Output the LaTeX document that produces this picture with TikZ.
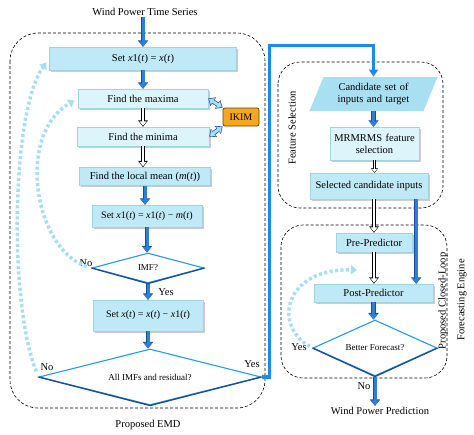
\documentclass[tikz,border=0pt]{standalone}
\usepackage{fontspec}
\setmainfont{Liberation Serif}
\usetikzlibrary{shapes.geometric,arrows.meta,shadows}

\definecolor{boxfill}{HTML}{BFE9F6}
\definecolor{lightfill}{HTML}{DDF4FB}
\definecolor{candfill}{HTML}{A8E0F2}
\definecolor{boxline}{HTML}{A3D3E3}
\definecolor{arrblue}{HTML}{2F7FD8}
\definecolor{darkblue}{HTML}{1B4C9A}
\definecolor{pathblue}{HTML}{1E88F0}
\definecolor{dotblue}{HTML}{A6DFF0}
\definecolor{ikimfill}{HTML}{F4A81D}

\begin{document}
\begin{tikzpicture}[x=1pt, y=-1pt, thick,
	box node/.style={rectangle,fill=boxfill,draw=boxline,thin,inner sep=1pt,align=center,
		font=\fontsize{10.5}{12}\selectfont,
		drop shadow={shadow xshift=1.5pt,shadow yshift=-1.5pt,fill=black!40,opacity=0.5}},
	light node/.style={box node,fill=lightfill},
	cand node/.style={trapezium,trapezium left angle=57,trapezium right angle=123,
		trapezium stretches body,fill=candfill,inner sep=0pt,text width=100pt,align=center,
		font=\fontsize{10.5}{12}\selectfont},
	dec node/.style={diamond,draw=arrblue!80!cyan,fill=white,line width=1.1pt,inner sep=0pt,aspect=3,
		font=\fontsize{9}{10}\selectfont},
	ikim node/.style={rectangle,rounded corners=2pt,fill=ikimfill,draw=black!60!ikimfill,
		font=\fontsize{10}{12}\selectfont,minimum width=36pt,minimum height=18pt,inner sep=1pt},
	label node/.style={font=\fontsize{10.5}{12}\selectfont,inner sep=1pt},
	frame/.style={draw,line width=0.6pt,dash pattern=on 3pt off 2pt},
	bluearr/.style={draw=arrblue,line width=3pt,-{Triangle[width=8.5pt,length=5.5pt]},
		preaction={draw=darkblue,line width=4.4pt,-{Triangle[width=10pt,length=6.5pt]}}},
	hollowarr/.style={draw=white,line width=2.2pt,-{Triangle[width=7pt,length=4.5pt]},shorten >=1pt,
		preaction={draw=black,line width=3.6pt,-{Triangle[width=9.5pt,length=6.5pt]},shorten >=0pt}},
	hollowsmall/.style={draw=white,line width=1.6pt,-{Triangle[width=5pt,length=3pt]},shorten >=0.8pt,
		preaction={draw=black,line width=2.8pt,-{Triangle[width=7pt,length=4.5pt]},shorten >=0pt}},
	dblarr/.style={draw=dotblue,line width=3pt,
		{Triangle[width=7.5pt,length=4.5pt]}-{Triangle[width=7.5pt,length=4.5pt]},shorten <=1pt,shorten >=1pt,
		preaction={draw=darkblue,line width=4.4pt,
			{Triangle[width=10pt,length=6pt]}-{Triangle[width=10pt,length=6pt]},shorten <=0pt,shorten >=0pt}},
	dotarr/.style={draw=dotblue,line width=3.5pt,dash pattern=on 3pt off 2.5pt,
		-{Triangle[width=9pt,length=6pt]}},
	mainpath/.style={draw=pathblue,line width=3.6pt,line join=miter,-{Triangle[width=9pt,length=7pt]}}]
	
	\useasboundingbox (0,0) rectangle (474,434);
	
	% group frames
	\draw[frame,rounded corners=28pt] (10,33) rectangle (265,408);
	\draw[frame,rounded corners=22pt] (278,62) rectangle (443,208);
	\draw[frame,rounded corners=22pt] (281,225) rectangle (447,378);
	
	% proposed EMD
	\node[label node] (0) at (145,12) {Wind Power Time Series};
	\node[box node,minimum width=187pt,minimum height=23pt] (1) at (143,58.5)
		{Set \textit{x}1(\textit{t}) = \textit{x}(\textit{t})};
	\node[light node,minimum width=130pt,minimum height=19pt] (2) at (143,98.5) {Find the maxima};
	\node[light node,minimum width=132pt,minimum height=19pt] (3) at (143,136.5) {Find the minima};
	\node[box node,minimum width=131pt,minimum height=18pt] (4) at (145,176.5)
		{Find the local mean (\textit{m}(\textit{t}))};
	\node[box node,minimum width=110pt,minimum height=22pt,font=\fontsize{10}{12}\selectfont] (5) at (147,216)
		{Set \textit{x}1(\textit{t}) = \textit{x}1(\textit{t}) − \textit{m}(\textit{t})};
	\node[dec node,minimum width=112pt,minimum height=30pt] (6) at (148,268) {IMF?};
	\node[box node,minimum width=110pt,minimum height=31pt,font=\fontsize{10}{12}\selectfont] (7) at (148,315.5)
		{Set \textit{x}(\textit{t}) = \textit{x}(\textit{t}) − \textit{x}1(\textit{t})};
	\node[dec node,minimum width=222pt,minimum height=56pt] (8) at (150,377) {All IMFs and residual?};
	\node[ikim node] (9) at (241,117) {IKIM};
	\node[label node] (emd) at (148,425) {Proposed EMD};
	
	% feature selection and forecasting engine
	\node[cand node,minimum width=127pt,minimum height=34pt] (10) at (373.5,94)
		{Candidate set of\\inputs and target};
	\node[light node,minimum width=89pt,minimum height=33pt,text width=86pt] (11) at (374.5,143.5)
		{MRMRMS feature\\selection};
	\node[box node,minimum width=118pt,minimum height=26pt] (12) at (369,186) {Selected candidate inputs};
	\node[box node,minimum width=76pt,minimum height=19pt] (13) at (374,242.5) {Pre-Predictor};
	\node[box node,minimum width=119pt,minimum height=18pt] (14) at (373.5,293) {Post-Predictor};
	\node[dec node,minimum width=124pt,minimum height=56pt] (15) at (375,348) {Better Forecast?};
	\node[label node] (16) at (380,411) {Wind Power Prediction};
	\node[label node,rotate=90] (fs) at (292,128) {Feature Selection};
	\node[label node,rotate=90] (fe1) at (443,301) {Proposed Closed-Loop};
	\node[label node,rotate=90] (fe2) at (462,300) {Forecasting Engine};
	
	% yes / no labels
	\node[label node] (no1) at (86,263) {No};
	\node[label node] (yes1) at (166,292) {Yes};
	\node[label node] (no2) at (47,367) {No};
	\node[label node] (yes2) at (252,364) {Yes};
	\node[label node] (yes3) at (299,347) {Yes};
	\node[label node] (no3) at (364,386) {No};
	
	% flow
	\draw[bluearr] (1.north |- 0.south) -- (1.north);
	\draw[bluearr] (1.south) -- (1.south |- 2.north);
	\draw[hollowarr] (2.south) -- (2.south |- 3.north);
	\draw[hollowarr] (3.south) -- (3.south |- 4.north);
	\draw[bluearr] (4.south) -- (4.south |- 5.north);
	\draw[bluearr] (5.south) -- (5.south |- 6.north);
	\draw[bluearr] (6.south) -- (6.south |- 7.north);
	\draw[bluearr] (7.south) -- (7.south |- 8.north);
	\draw[dblarr] (2.east) -- (9.north west);
	\draw[dblarr] (3.east) -- (9.south west);
	\draw[darkblue,line width=1.3pt] (6.west) -- (6.south) -- (6.east);
	\draw[darkblue,line width=1.3pt] (8.west) -- (8.south) -- (8.east);
	\draw[darkblue,line width=1.3pt] (15.west) -- (15.south) -- (15.east);
	
	\draw[mainpath] (8.east) -- ++(8,0) |- ([yshift=31pt]10.north) -- (10.north);
	
	\draw[bluearr] (10.south) -- (10.south |- 11.north);
	\draw[hollowsmall] (11.south) -- (11.south |- 12.north);
	\draw[hollowarr] (13.north |- 12.south) -- (13.north);
	\draw[hollowarr] (13.south) -- (13.south |- 14.north);
	\draw[bluearr] (14.south) -- (14.south |- 15.north);
	\draw[bluearr] (15.south) -- (15.south |- 16.north);
	\draw[bluearr] ([xshift=-12pt]12.south east) -- ([xshift=-12pt]12.south east |- 14.north);
	
	% feedback loops
	\coordinate (back) at (357,270);
	\draw[dotarr,shorten <=6pt,shorten >=5pt] (8.west) .. controls (8,300) and (12,110) .. (1.west);
	\draw[dotarr,shorten <=5pt,shorten >=4pt] (6.west) .. controls (35,250) and (15,135) .. (2.west);
	\draw[dotarr,shorten <=3pt] (15.west) .. controls (272,325) and (285,268) .. (back);
\end{tikzpicture}
\end{document}
